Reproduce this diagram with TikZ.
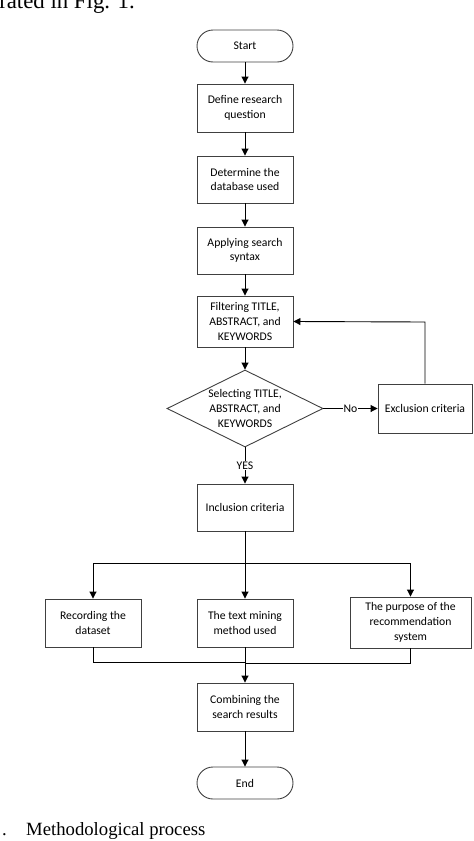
\documentclass[tikz,border=0pt]{standalone}
\usepackage{fontspec}
\setmainfont{Liberation Serif}
\newfontfamily\boxfont{Carlito}
\usetikzlibrary{shapes.geometric,arrows.meta}
\definecolor{edgegray}{HTML}{404040}
\tikzset{
  base/.style={draw=edgegray, line width=0.9pt, font=\boxfont\fontsize{11.7}{14.7}\selectfont, align=center, text=black, inner sep=0pt},
  procbox/.style={base, rectangle, minimum width=96pt, minimum height=48pt},
  termbox/.style={base, rectangle, rounded corners=16pt, minimum width=96pt, minimum height=32pt},
  decbox/.style={draw=edgegray, line width=0.9pt, diamond, inner sep=0pt},
  txt/.style={font=\boxfont\fontsize{11.7}{14.7}\selectfont, align=center, inner sep=0pt},
  conn/.style={draw=black, line width=0.9pt},
  arr/.style={conn, -{Triangle[length=7pt,width=7pt]}},
  lbl/.style={font=\boxfont\fontsize{11.7}{14.7}\selectfont, fill=white, inner sep=1pt},
  caption/.style={font=\fontsize{18.7}{22}\selectfont, inner sep=0pt},
  bodytext/.style={font=\fontsize{22.8}{26}\selectfont, inner sep=0pt}
}
\begin{document}
\begin{tikzpicture}[x=1pt,y=-1pt]
\useasboundingbox (0,0) rectangle (474,841);
\node[bodytext, anchor=base east] (top) at (135,8) {rated in Fig. 1.};
\node[termbox] (start) at (245,46) {Start};
\node[procbox] (define) at (245,108) {Define research\\question};
\node[procbox, minimum height=47pt] (determine) at (245,179.5) {Determine the\\database used};
\node[procbox, minimum height=47pt] (apply) at (245,250.5) {Applying search\\syntax};
\node[procbox, minimum height=51pt] (filter) at (245,321.5) {Filtering TITLE,\\ABSTRACT, and\\KEYWORDS};
\node[decbox, minimum width=156pt, minimum height=77pt] (select) at (245,408.5) {};
\node[txt] (selecttxt) at (select.center) {Selecting TITLE,\\ABSTRACT, and\\KEYWORDS};
\node[procbox, minimum width=94pt, minimum height=49pt] (excl) at (425,408.5) {Exclusion criteria};
\node[procbox, minimum height=47pt] (incl) at (245,507.5) {Inclusion criteria};
\node[procbox] (rec) at (93,623) {Recording the\\dataset};
\node[procbox] (mine) at (245,623) {The text mining\\method used};
\node[procbox, minimum width=121pt, minimum height=51pt] (purp) at (410.5,622.5) {The purpose of the\\recommendation\\system};
\node[procbox] (comb) at (245,707) {Combining the\\search results};
\node[termbox] (end) at (245,783) {End};
\node[caption, anchor=base west] (dot) at (2,835) {.};
\node[caption, anchor=base west] (cap) at (26,835) {Methodological process};

\coordinate (splitL) at (93,563);
\coordinate (splitR) at (410.5,563);
\coordinate (mergeL) at (93,662);
\coordinate (mergeR) at (410.5,663);
\coordinate (merge) at (245,662);
\coordinate (mergeB) at (245,663);
\coordinate (loopTop) at (425,322);

\draw[arr] (start) -- (define);
\draw[arr] (define) -- (determine);
\draw[arr] (determine) -- (apply);
\draw[arr] (apply) -- (filter);
\draw[arr] (filter) -- (select);
\draw[arr] (select.east) -- node[lbl] (no) {No} (excl.west);
\draw[arr] (select.south) -- node[lbl] (yes) {YES} (incl.north);
\draw[arr] (excl.north) -- (loopTop) -- (filter.east);
\draw[arr] (incl.south) -- (mine.north);
\draw[conn] (splitL) -- (splitR);
\draw[arr] (splitL) -- (rec.north);
\draw[arr] (splitR) -- (purp.north);
\draw[conn] (rec.south) -- (mergeL) -- (merge);
\draw[conn] (purp.south) -- (mergeR) -- (mergeB);
\draw[arr] (mine.south) -- (comb.north);
\draw[arr] (comb) -- (end);
\end{tikzpicture}
\end{document}
